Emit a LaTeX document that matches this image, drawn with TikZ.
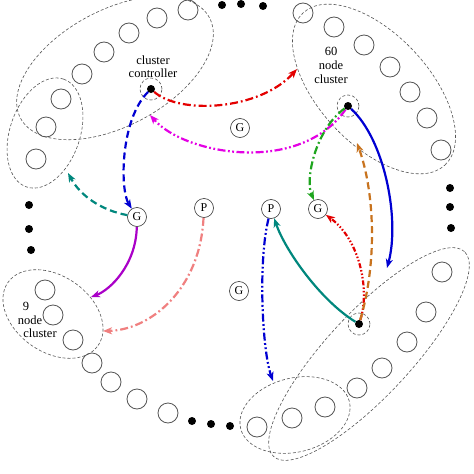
\documentclass[tikz,border=0pt]{standalone}
\usepackage{fontspec}
\setmainfont{Liberation Serif}
\usetikzlibrary{arrows.meta}
\definecolor{cred}{RGB}{228,0,0}
\definecolor{cblue}{RGB}{0,0,210}
\definecolor{cmag}{RGB}{228,0,228}
\definecolor{cgreen}{RGB}{30,165,30}
\definecolor{cteal}{RGB}{0,135,125}
\definecolor{cviolet}{RGB}{170,0,200}
\definecolor{csalmon}{RGB}{240,128,128}
\definecolor{corange}{RGB}{200,115,30}
\definecolor{cgray}{RGB}{85,85,85}
\begin{document}
\begin{tikzpicture}[x=1pt,y=1pt,
  nd/.style={circle,draw=cgray,line width=0.8pt,minimum size=20pt,inner sep=0pt},
  bdot/.style={circle,fill=black,minimum size=8pt,inner sep=0pt},
  ctl/.style={circle,fill=black,minimum size=8pt,inner sep=0pt},
  ell/.style={draw=cgray,line width=0.6pt,dash pattern=on 3pt off 2pt},
  gp/.style={circle,draw=black!80,line width=0.6pt,minimum size=19pt,inner sep=0pt,font=\fontsize{12}{12}\selectfont},
  lbl/.style={font=\fontsize{12.5}{13}\selectfont,inner sep=0pt},
  arr/.style={line width=2.2pt,-{Stealth[length=9pt,width=7pt,inset=2.5pt]}},
  dashdot/.style={dash pattern=on 8pt off 3pt on 1.8pt off 3pt},
  dashdotdot/.style={dash pattern=on 8pt off 2.5pt on 1.8pt off 2.5pt on 1.8pt off 2.5pt},
  dashdotdotdot/.style={dash pattern=on 5pt off 2pt on 1.5pt off 2pt on 1.5pt off 2pt on 1.5pt off 2pt},
  ldash/.style={dash pattern=on 7pt off 4pt}
]
\useasboundingbox (0,0) rectangle (474,-474);
\fill[white] (0,0) rectangle (474,-474);

% dashed cluster ellipses
\draw[ell,rotate around={28:(115,-68)}] (115,-68) ellipse [x radius=107,y radius=58];
\draw[ell,rotate around={71:(45,-133)}] (45,-133) ellipse [x radius=57,y radius=35];
\draw[ell,rotate around={-47:(374,-89)}] (374,-89) ellipse [x radius=104,y radius=55];
\draw[ell,rotate around={-35:(53,-314)}] (53,-314) ellipse [x radius=55,y radius=38];
\draw[ell,rotate around={47:(369,-354)}] (369,-354) ellipse [x radius=140,y radius=42];
\draw[ell,rotate around={14:(295,-415)}] (295,-415) ellipse [x radius=56,y radius=37];

% ring nodes
\foreach \x/\y [count=\i] in {188/10,157/18,129/33,104/52,82/74,61/99,46/127,36/159}
  \node[nd] (a\i) at (\x,-\y) {};
\foreach \x/\y [count=\i] in {303/13,334/27,364/45,390/67,410/92,427/118,441/150}
  \node[nd] (b\i) at (\x,-\y) {};
\foreach \x/\y [count=\i] in {45/290,53/315,73/340,92/363,111/382,137/399,168/413}
  \node[nd] (c\i) at (\x,-\y) {};
\foreach \x/\y [count=\i] in {257/427,292/418,325/407,357/388,382/368,407/342,426/312,442/272}
  \node[nd] (d\i) at (\x,-\y) {};

% ellipsis dots
\foreach \x/\y [count=\i] in {222/5,241/4,263/6,450/188,450/207,451/228,29/205,29/229,31/250,192/421,211/424,230/426}
  \node[bdot] (k\i) at (\x,-\y) {};

% controllers
\node[ctl] (cc1) at (151,-89) {};
\node[ctl] (cc2) at (348,-106) {};
\node[ctl] (cc3) at (359,-324) {};
\foreach \n in {cc1,cc2,cc3}
  \draw[ell] (\n) circle (11);

% labels
\node[lbl] (l1) at (153,-60) {cluster};
\node[lbl] (l2) at (153,-73) {controller};
\node[lbl] (l3) at (331,-51) {60};
\node[lbl] (l4) at (331,-65) {node};
\node[lbl] (l5) at (331,-79) {cluster};
\node[lbl] (l6) at (26,-306) {9};
\node[lbl] (l7) at (30,-320) {node};
\node[lbl] (l8) at (40,-333) {cluster};

% G / P nodes
\node[gp] (g1) at (137,-217) {G};
\node[gp] (p1) at (204,-208) {P};
\node[gp] (g2) at (240,-128) {G};
\node[gp] (p2) at (271,-209) {P};
\node[gp] (g3) at (318,-209) {G};
\node[gp] (g4) at (239,-291) {G};

% arrow targets on cluster boundaries
\coordinate (tTR) at (297,-69);
\coordinate (tTL) at (150,-115);
\coordinate (tTLs) at (68,-173);
\coordinate (t9a) at (91,-297);
\coordinate (t9b) at (103,-331);
\coordinate (tBs) at (273,-381);
\coordinate (tTRb) at (357,-143);
\coordinate (tBR) at (387,-268);

% connectors
\draw[arr,cred,dashdot] (cc1) .. controls (180,-115) and (260,-110) .. (tTR);
\draw[arr,cmag,dashdotdot] (cc2) .. controls (300,-175) and (185,-155) .. (tTL);
\draw[arr,cblue,ldash] (cc1) .. controls (120,-120) and (120,-190) .. (g1);
\draw[arr,cteal,ldash] (g1) .. controls (100,-210) and (80,-195) .. (tTLs);
\draw[arr,cviolet] (g1) .. controls (136,-265) and (110,-290) .. (t9a);
\draw[arr,csalmon,dashdot] (p1) .. controls (200,-290) and (150,-330) .. (t9b);
\draw[arr,cblue,dashdotdot] (p2) .. controls (258,-260) and (262,-350) .. (tBs);
\draw[arr,cteal] (cc3) .. controls (320,-300) and (285,-250) .. (p2);
\draw[arr,cred,dashdotdotdot] (cc3) .. controls (370,-290) and (360,-240) .. (g3);
\draw[arr,corange,ldash] (cc3) .. controls (378,-260) and (374,-190) .. (tTRb);
\draw[arr,cblue] (cc2) .. controls (385,-140) and (400,-220) .. (tBR);
\draw[arr,cgreen,dashdot] (cc2) .. controls (315,-130) and (305,-180) .. (g3);
\end{tikzpicture}
\end{document}
